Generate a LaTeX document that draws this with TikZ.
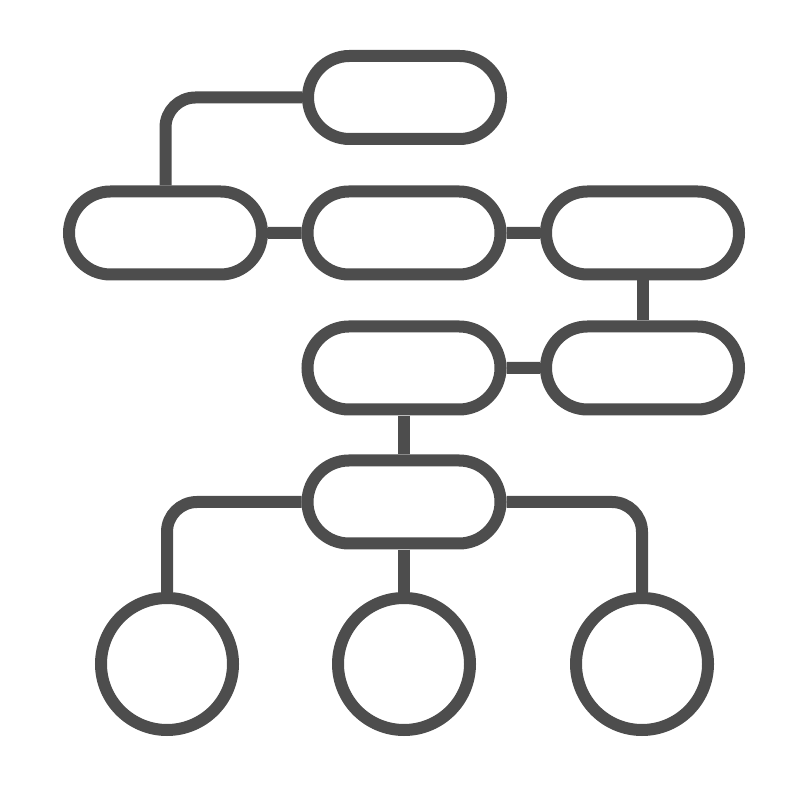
\documentclass[tikz,border=0pt]{standalone}
\usetikzlibrary{shapes.misc}

\definecolor{icongray}{RGB}{77,77,77}

\begin{document}
\begin{tikzpicture}[
    line width=0.12cm, draw=icongray, icongray,
    pill/.style={draw, rounded rectangle, minimum width=1.93cm, minimum height=0.83cm, inner sep=0pt},
    leaf/.style={draw, circle, minimum size=1.32cm, inner sep=0pt},
    link/.style={rounded corners=0.3cm}
  ]
  \useasboundingbox (0,0) rectangle (8,8);

  % top row
  \node[pill] (top) at (4.045,7.025) {};

  % second row
  \node[pill] (left)   at (1.655,5.67) {};
  \node[pill] (mid)    at (4.04,5.67)  {};
  \node[pill] (right)  at (6.425,5.67) {};

  % third row
  \node[pill] (lower)  at (4.04,4.32)  {};
  \node[pill] (side)   at (6.425,4.32) {};

  % hub
  \node[pill] (hub)    at (4.04,2.98)  {};

  % leaves
  \node[leaf] (c1) at (1.67,1.36) {};
  \node[leaf] (c2) at (4.04,1.36) {};
  \node[leaf] (c3) at (6.42,1.36) {};

  \draw[link] (top.west) -| (left.north);
  \draw (left) -- (mid);
  \draw (mid) -- (right);
  \draw (right) -- (side);
  \draw (lower) -- (side);
  \draw (lower) -- (hub);

  \draw[link] (hub.west) -| (c1.north);
  \draw (hub) -- (c2);
  \draw[link] (hub.east) -| (c3.north);
\end{tikzpicture}
\end{document}
